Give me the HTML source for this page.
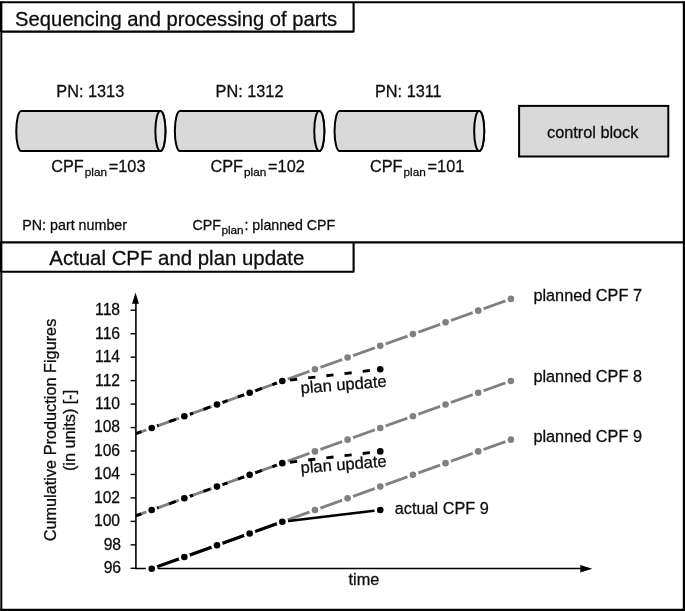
<!DOCTYPE html>
<html><head><meta charset="utf-8"><title>CPF</title>
<style>
html,body{margin:0;padding:0;background:#fff;}
svg{display:block;font-family:"Liberation Sans",Arial,sans-serif;}
text{fill:#0d0d0d;stroke:#0d0d0d;stroke-width:0.28px;}
</style></head><body>
<svg width="685" height="611" viewBox="0 0 685 611">
<rect x="0" y="0" width="685" height="611" fill="#fff"/>

<g fill="none" stroke="#000" stroke-linecap="square">
<line x1="1.3" y1="2.25" x2="1.3" y2="609.8" stroke-width="2"/>
<line x1="1.3" y1="2.25" x2="683.9" y2="2.25" stroke-width="2.15"/>
<line x1="683.9" y1="2.25" x2="683.9" y2="609.8" stroke-width="2.2"/>
<line x1="1.3" y1="609.85" x2="683.9" y2="609.85" stroke-width="2.3"/>
<line x1="1.3" y1="242.3" x2="683.9" y2="242.3" stroke-width="2.2"/>
</g>
<g fill="none" stroke="#000" stroke-width="2.1" stroke-linejoin="round">
<path d="M1.05 2.25 V31.6 H353.6 V2.25"/>
<path d="M1.05 242.3 V271.8 H353.6 V242.3"/>
</g>
<text x="15" y="25.6" font-size="20.2">Sequencing and processing of parts</text>
<text x="49.3" y="265.4" font-size="20.4">Actual CPF and plan update</text>
<g stroke="#000" stroke-width="2"><path d="M21.3 111 H160.4 A5.05 20.049999999999997 0 0 1 160.4 151.1 H21.3 A5.05 20.049999999999997 0 0 1 21.3 111 Z" fill="#d9d9d9"/><ellipse cx="160.4" cy="131.05" rx="5.05" ry="20.049999999999997" fill="#e6e6e6"/></g>
<g stroke="#000" stroke-width="2"><path d="M179.9 111 H319.3 A5.05 20.049999999999997 0 0 1 319.3 151.1 H179.9 A5.05 20.049999999999997 0 0 1 179.9 111 Z" fill="#d9d9d9"/><ellipse cx="319.3" cy="131.05" rx="5.05" ry="20.049999999999997" fill="#e6e6e6"/></g>
<g stroke="#000" stroke-width="2"><path d="M339.6 111 H479.2 A5.05 20.049999999999997 0 0 1 479.2 151.1 H339.6 A5.05 20.049999999999997 0 0 1 339.6 111 Z" fill="#d9d9d9"/><ellipse cx="479.2" cy="131.05" rx="5.05" ry="20.049999999999997" fill="#e6e6e6"/></g>
<text x="56.3" y="97.1" font-size="16.3">PN: 1313</text>
<text x="51.2" y="171.6" font-size="16.3">CPF<tspan font-size="11.8" dy="4.5" dx="1">plan</tspan><tspan dy="-4.5" dx="1.7">=103</tspan></text>
<text x="215.6" y="97.1" font-size="16.3">PN: 1312</text>
<text x="210.5" y="171.6" font-size="16.3">CPF<tspan font-size="11.8" dy="4.5" dx="1">plan</tspan><tspan dy="-4.5" dx="1.7">=102</tspan></text>
<text x="375" y="97.1" font-size="16.3">PN: 1311</text>
<text x="370" y="171.6" font-size="16.3">CPF<tspan font-size="11.8" dy="4.5" dx="1">plan</tspan><tspan dy="-4.5" dx="1.7">=101</tspan></text>
<rect x="519.1" y="105.9" width="149.2" height="50.6" fill="#d9d9d9" stroke="#000" stroke-width="2"/>
<text x="547" y="138" font-size="16.3">control block</text>
<text x="22.2" y="229.9" font-size="14.3">PN: part number</text>
<text x="192.6" y="229.9" font-size="14.2">CPF<tspan font-size="11.8" dy="3.7" dx="0.4">plan</tspan><tspan dy="-3.7" dx="0.8">: planned CPF</tspan></text>
<line x1="135.9" y1="569.1999999999999" x2="135.9" y2="300" stroke="#000" stroke-width="1.6"/>
<polygon points="135.5,292.4 132.0,303.8 139.0,303.8" fill="#000"/>
<line x1="135.9" y1="568.5" x2="582" y2="568.5" stroke="#000" stroke-width="1.4"/>
<polygon points="592.3,568.8 580.3,565.0 580.3,572.5999999999999" fill="#000"/>
<line x1="130.6" y1="568.30" x2="135.9" y2="568.30" stroke="#000" stroke-width="1.4"/>
<text x="121.1" y="573.20" font-size="15.7" text-anchor="end">96</text>
<line x1="130.6" y1="544.84" x2="135.9" y2="544.84" stroke="#000" stroke-width="1.4"/>
<text x="121.1" y="549.74" font-size="15.7" text-anchor="end">98</text>
<line x1="130.6" y1="521.38" x2="135.9" y2="521.38" stroke="#000" stroke-width="1.4"/>
<text x="120.1" y="526.28" font-size="15.7" text-anchor="end">100</text>
<line x1="130.6" y1="497.92" x2="135.9" y2="497.92" stroke="#000" stroke-width="1.4"/>
<text x="120.1" y="502.82" font-size="15.7" text-anchor="end">102</text>
<line x1="130.6" y1="474.46" x2="135.9" y2="474.46" stroke="#000" stroke-width="1.4"/>
<text x="120.1" y="479.36" font-size="15.7" text-anchor="end">104</text>
<line x1="130.6" y1="451.00" x2="135.9" y2="451.00" stroke="#000" stroke-width="1.4"/>
<text x="120.1" y="455.90" font-size="15.7" text-anchor="end">106</text>
<line x1="130.6" y1="427.54" x2="135.9" y2="427.54" stroke="#000" stroke-width="1.4"/>
<text x="120.1" y="432.44" font-size="15.7" text-anchor="end">108</text>
<line x1="130.6" y1="404.08" x2="135.9" y2="404.08" stroke="#000" stroke-width="1.4"/>
<text x="120.1" y="408.98" font-size="15.7" text-anchor="end">110</text>
<line x1="130.6" y1="380.62" x2="135.9" y2="380.62" stroke="#000" stroke-width="1.4"/>
<text x="120.1" y="385.52" font-size="15.7" text-anchor="end">112</text>
<line x1="130.6" y1="357.16" x2="135.9" y2="357.16" stroke="#000" stroke-width="1.4"/>
<text x="120.1" y="362.06" font-size="15.7" text-anchor="end">114</text>
<line x1="130.6" y1="333.70" x2="135.9" y2="333.70" stroke="#000" stroke-width="1.4"/>
<text x="120.1" y="338.60" font-size="15.7" text-anchor="end">116</text>
<line x1="130.6" y1="310.24" x2="135.9" y2="310.24" stroke="#000" stroke-width="1.4"/>
<text x="120.1" y="315.14" font-size="15.7" text-anchor="end">118</text>
<text transform="translate(55.5,430) rotate(-90)" font-size="16.3" text-anchor="middle">Cumulative Production Figures</text>
<text transform="translate(74.5,430.4) rotate(-90)" font-size="16.3" text-anchor="middle">(in units) [-]</text>
<text x="348.6" y="584.8" font-size="16.3">time</text>
<polyline points="135.40,433.80 510.85,298.91" fill="none" stroke="#808080" stroke-width="2.9" stroke-linejoin="round" />
<polyline points="135.40,433.80 151.70,427.94 184.35,416.21 217.00,404.48 249.65,392.75 282.30,381.02 380.25,369.29" fill="none" stroke="#000" stroke-width="2.9" stroke-linejoin="round" stroke-dasharray="7.2 11.1" stroke-dashoffset="0.85"/>
<polyline points="135.40,515.91 510.85,381.02" fill="none" stroke="#808080" stroke-width="2.9" stroke-linejoin="round" />
<polyline points="135.40,515.91 151.70,510.05 184.35,498.32 217.00,486.59 249.65,474.86 282.30,463.13 380.25,451.40" fill="none" stroke="#000" stroke-width="2.9" stroke-linejoin="round" stroke-dasharray="7.2 11.1" stroke-dashoffset="0.85"/>
<polyline points="151.70,568.70 510.85,439.67" fill="none" stroke="#808080" stroke-width="2.9" stroke-linejoin="round" />
<polyline points="151.70,568.70 184.35,556.97 217.00,545.24 249.65,533.51 282.30,521.78" fill="none" stroke="#000" stroke-width="3.0" stroke-linejoin="round" />
<polyline points="282.30,521.78 380.25,510.05" fill="none" stroke="#000" stroke-width="2.5" stroke-linejoin="round" />
<circle cx="314.95" cy="369.29" r="5.9" fill="#fff"/><circle cx="314.95" cy="369.29" r="3.3" fill="#808080"/>
<circle cx="347.60" cy="357.56" r="5.9" fill="#fff"/><circle cx="347.60" cy="357.56" r="3.3" fill="#808080"/>
<circle cx="380.25" cy="345.83" r="5.9" fill="#fff"/><circle cx="380.25" cy="345.83" r="3.3" fill="#808080"/>
<circle cx="412.90" cy="334.10" r="5.9" fill="#fff"/><circle cx="412.90" cy="334.10" r="3.3" fill="#808080"/>
<circle cx="445.55" cy="322.37" r="5.9" fill="#fff"/><circle cx="445.55" cy="322.37" r="3.3" fill="#808080"/>
<circle cx="478.20" cy="310.64" r="5.9" fill="#fff"/><circle cx="478.20" cy="310.64" r="3.3" fill="#808080"/>
<circle cx="510.85" cy="298.91" r="5.9" fill="#fff"/><circle cx="510.85" cy="298.91" r="3.3" fill="#808080"/>
<circle cx="151.70" cy="427.94" r="5.9" fill="#fff"/><circle cx="151.70" cy="427.94" r="3.3" fill="#000"/>
<circle cx="184.35" cy="416.21" r="5.9" fill="#fff"/><circle cx="184.35" cy="416.21" r="3.3" fill="#000"/>
<circle cx="217.00" cy="404.48" r="5.9" fill="#fff"/><circle cx="217.00" cy="404.48" r="3.3" fill="#000"/>
<circle cx="249.65" cy="392.75" r="5.9" fill="#fff"/><circle cx="249.65" cy="392.75" r="3.3" fill="#000"/>
<circle cx="282.30" cy="381.02" r="5.9" fill="#fff"/><circle cx="282.30" cy="381.02" r="3.3" fill="#000"/>
<circle cx="380.25" cy="369.29" r="5.9" fill="#fff"/><circle cx="380.25" cy="369.29" r="3.3" fill="#000"/>
<circle cx="314.95" cy="451.40" r="5.9" fill="#fff"/><circle cx="314.95" cy="451.40" r="3.3" fill="#808080"/>
<circle cx="347.60" cy="439.67" r="5.9" fill="#fff"/><circle cx="347.60" cy="439.67" r="3.3" fill="#808080"/>
<circle cx="380.25" cy="427.94" r="5.9" fill="#fff"/><circle cx="380.25" cy="427.94" r="3.3" fill="#808080"/>
<circle cx="412.90" cy="416.21" r="5.9" fill="#fff"/><circle cx="412.90" cy="416.21" r="3.3" fill="#808080"/>
<circle cx="445.55" cy="404.48" r="5.9" fill="#fff"/><circle cx="445.55" cy="404.48" r="3.3" fill="#808080"/>
<circle cx="478.20" cy="392.75" r="5.9" fill="#fff"/><circle cx="478.20" cy="392.75" r="3.3" fill="#808080"/>
<circle cx="510.85" cy="381.02" r="5.9" fill="#fff"/><circle cx="510.85" cy="381.02" r="3.3" fill="#808080"/>
<circle cx="151.70" cy="510.05" r="5.9" fill="#fff"/><circle cx="151.70" cy="510.05" r="3.3" fill="#000"/>
<circle cx="184.35" cy="498.32" r="5.9" fill="#fff"/><circle cx="184.35" cy="498.32" r="3.3" fill="#000"/>
<circle cx="217.00" cy="486.59" r="5.9" fill="#fff"/><circle cx="217.00" cy="486.59" r="3.3" fill="#000"/>
<circle cx="249.65" cy="474.86" r="5.9" fill="#fff"/><circle cx="249.65" cy="474.86" r="3.3" fill="#000"/>
<circle cx="282.30" cy="463.13" r="5.9" fill="#fff"/><circle cx="282.30" cy="463.13" r="3.3" fill="#000"/>
<circle cx="380.25" cy="451.40" r="5.9" fill="#fff"/><circle cx="380.25" cy="451.40" r="3.3" fill="#000"/>
<circle cx="314.95" cy="510.05" r="5.9" fill="#fff"/><circle cx="314.95" cy="510.05" r="3.3" fill="#808080"/>
<circle cx="347.60" cy="498.32" r="5.9" fill="#fff"/><circle cx="347.60" cy="498.32" r="3.3" fill="#808080"/>
<circle cx="380.25" cy="486.59" r="5.9" fill="#fff"/><circle cx="380.25" cy="486.59" r="3.3" fill="#808080"/>
<circle cx="412.90" cy="474.86" r="5.9" fill="#fff"/><circle cx="412.90" cy="474.86" r="3.3" fill="#808080"/>
<circle cx="445.55" cy="463.13" r="5.9" fill="#fff"/><circle cx="445.55" cy="463.13" r="3.3" fill="#808080"/>
<circle cx="478.20" cy="451.40" r="5.9" fill="#fff"/><circle cx="478.20" cy="451.40" r="3.3" fill="#808080"/>
<circle cx="510.85" cy="439.67" r="5.9" fill="#fff"/><circle cx="510.85" cy="439.67" r="3.3" fill="#808080"/>
<circle cx="151.70" cy="568.70" r="5.9" fill="#fff"/><circle cx="151.70" cy="568.70" r="3.3" fill="#000"/>
<circle cx="184.35" cy="556.97" r="5.9" fill="#fff"/><circle cx="184.35" cy="556.97" r="3.3" fill="#000"/>
<circle cx="217.00" cy="545.24" r="5.9" fill="#fff"/><circle cx="217.00" cy="545.24" r="3.3" fill="#000"/>
<circle cx="249.65" cy="533.51" r="5.9" fill="#fff"/><circle cx="249.65" cy="533.51" r="3.3" fill="#000"/>
<circle cx="282.30" cy="521.78" r="5.9" fill="#fff"/><circle cx="282.30" cy="521.78" r="3.3" fill="#000"/>
<circle cx="380.25" cy="510.05" r="5.9" fill="#fff"/><circle cx="380.25" cy="510.05" r="3.3" fill="#000"/>
<text transform="translate(301,393.4) rotate(-4.5)" font-size="16.5">plan update</text>
<text transform="translate(301,473.2) rotate(-4.5)" font-size="16.5">plan update</text>
<text x="394.7" y="513.6" font-size="16.3">actual CPF 9</text>
<text x="533.4" y="300.6" font-size="16.3">planned CPF 7</text>
<text x="533.4" y="381.8" font-size="16.3">planned CPF 8</text>
<text x="533.4" y="441.6" font-size="16.3">planned CPF 9</text>
</svg></body></html>
